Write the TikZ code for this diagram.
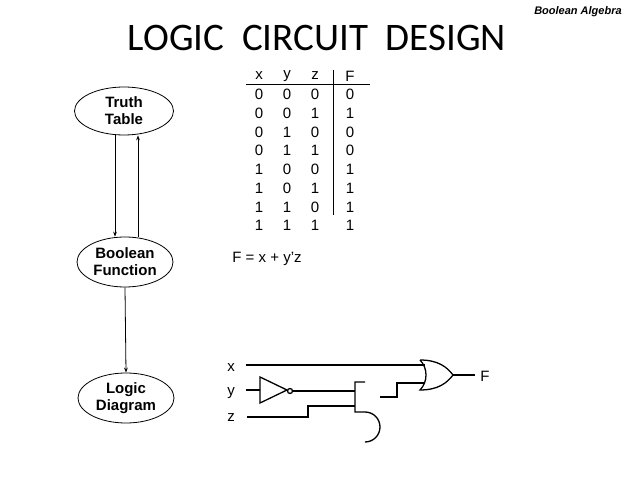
\documentclass[tikz,border=0pt]{standalone}
\usepackage{fontspec}
\setmainfont{Liberation Sans}
\newfontfamily\titlefont{Carlito}
\usetikzlibrary{arrows.meta,shapes.geometric}
\begin{document}
\begin{tikzpicture}[x=1pt,y=-1pt,
  blob/.style={ellipse,draw,thick,minimum width=96pt,minimum height=50pt,inner sep=0pt,align=center,font=\fontsize{15}{17}\selectfont\bfseries},
  tt/.style={font=\fontsize{15}{17}\selectfont},
  wire/.style={line width=1.3pt},
  flow/.style={thick,-{Stealth[length=5pt]}}]
\useasboundingbox (0,0) rectangle (638,478);
\node[font=\fontsize{39}{40}\selectfont\titlefont] (title) at (317,38) {LOGIC\ \ CIRCUIT\ \ DESIGN};
\node[font=\fontsize{11}{12}\selectfont\bfseries\itshape] (sub) at (578,12) {Boolean Algebra};
% blocks
\node[blob,minimum width=99pt,minimum height=48pt] (tt) at (124,111) {Truth\\Table};
\node[blob] (bf) at (125,262) {Boolean\\Function};
\node[blob] (ld) at (126,398) {Logic\\Diagram};
\draw[flow] (tt.south -| 115,0) -- (bf.north -| 115,0);
\draw[flow] (bf.north -| 138,0) -- (tt.south -| 138,0);
\draw[flow] (bf.south) -- (ld.north);
% truth table
\foreach \h/\xx in {x/259,y/287,z/315,F/350} \node[tt] (h\h) at (\xx,76) {\h};
\foreach \a/\b/\c/\v [count=\i] in {0/0/0/0,0/0/1/1,0/1/0/0,0/1/1/0,1/0/0/1,1/0/1/1,1/1/0/1,1/1/1/1}{
  \node[tt] (a\i) at (259,76+18.7*\i) {\a};
  \node[tt] (b\i) at (287,76+18.7*\i) {\b};
  \node[tt] (c\i) at (315,76+18.7*\i) {\c};
  \node[tt] (f\i) at (350,76+18.7*\i) {\v};
}
\draw[thick] (246,84) -- (370,84);
\draw[thick] (333,70) -- (333,215);
\node[tt] (eq) at (267,259) {F = x + y’z};
% logic diagram
\node[tt] (lx) at (231,368) {x};
\node[tt] (ly) at (231,393) {y};
\node[tt] (lz) at (231,418) {z};
\node[tt] (lf) at (485,376) {F};
% NOT gate
\draw[wire] (260,377) -- (287,390) -- (260,403) -- cycle;
\draw[wire] (290,391) circle (2.5);
\coordinate (ain1) at (355,391);
\coordinate (ain2) at (355,406);
% AND gate
\draw[wire] (365,382) -- (355,382) -- (355,412) -- (365,412) arc (-90:90:15);
% OR gate
\draw[wire] (420,360) .. controls (428,368) and (428,382) .. (420,390)
  .. controls (438,390) and (447,383) .. (453,375)
  .. controls (447,367) and (438,360) .. (420,360);
\draw[wire] (246,365) -- (425,365);
\draw[wire] (246,390) -- (260,390);
\draw[wire] (292.5,391) -- (ain1);
\draw[wire] (247,417) -- (308,417) -- (308,406) -- (ain2);
\draw[wire] (380,397) -- (397,397) -- (397,383) -- (425,383);
\draw[wire] (453,375) -- (475,375);
\end{tikzpicture}
\end{document}
